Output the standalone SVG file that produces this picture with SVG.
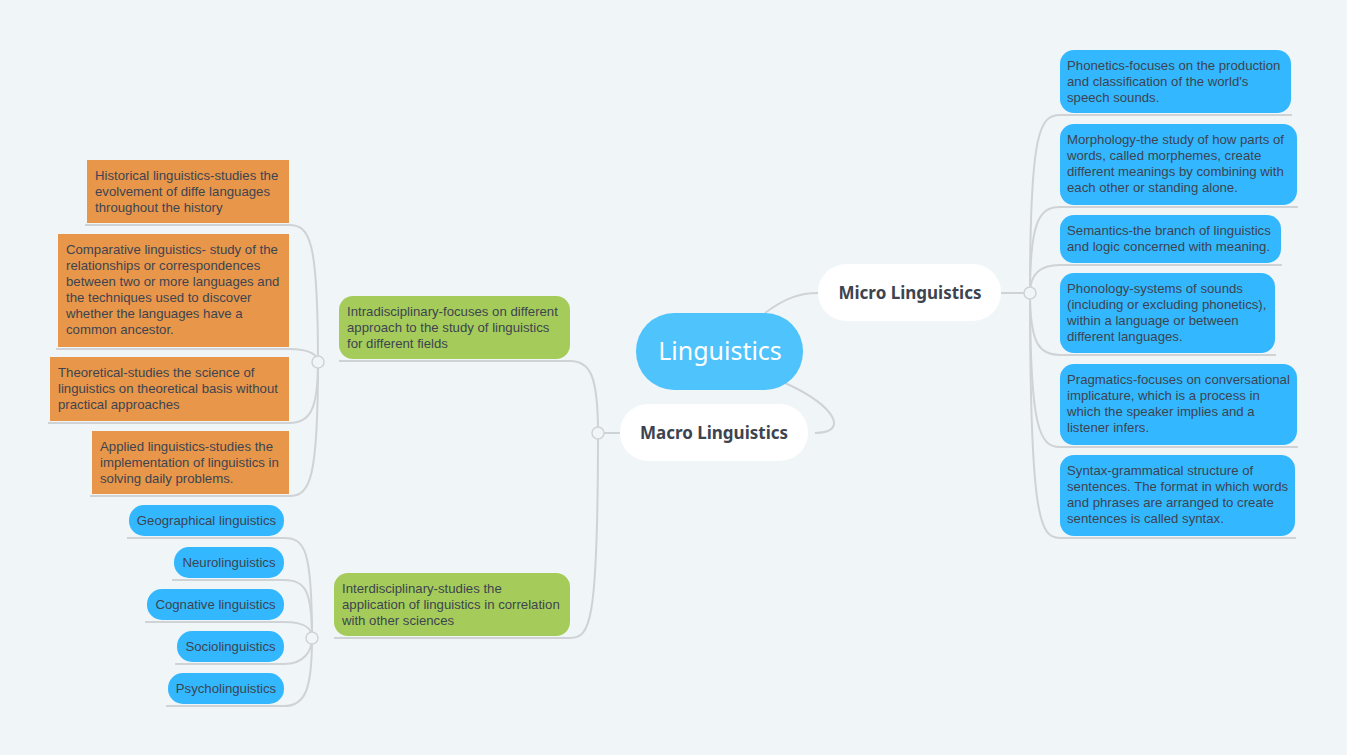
<svg xmlns="http://www.w3.org/2000/svg" width="1347" height="755" viewBox="0 0 1347 755">
<style>
.c{fill:none;stroke:#cfd3d6;stroke-width:2}
.j{fill:#f0f5f8;stroke:#cfd3d6;stroke-width:1.5}
.t{font-family:"Liberation Sans",Arial,sans-serif;font-size:13.2px;fill:#3d4450}
.b{fill:#33b8ff}.o{fill:#e8964a}.g{fill:#a5cc5a}
.h{font-family:"Noto Sans",sans-serif;font-weight:bold;font-size:17px;fill:#3d4450}
</style>
<rect width="1347" height="755" fill="#f0f5f8"/>
<g id="connectors">
<path class="c" d="M765,313 C785,298 800,293 818,293"/>
<path class="c" d="M785,383 C835,405 850,433 815,433"/>
<path class="c" d="M1001,293 H1024"/>
<path class="c" d="M1030,293 C1030,130 1040,115 1060,115 H1292"/>
<path class="c" d="M1030,293 C1030,220 1040,207 1060,207 H1298"/>
<path class="c" d="M1030,293 C1030,275 1040,265 1060,265 H1282"/>
<path class="c" d="M1030,293 C1030,345 1040,355 1060,355 H1276"/>
<path class="c" d="M1030,293 C1030,430 1040,447 1060,447 H1298"/>
<path class="c" d="M1030,293 C1030,520 1040,538 1060,538 H1296"/>
<path class="c" d="M620,433 H604"/>
<path class="c" d="M598,433 C598,375 590,361 570,361 H339"/>
<path class="c" d="M598,433 C598,625 590,638 570,638 H334"/>
<path class="c" d="M318,362 C318,240 310,225 289,225 H85"/>
<path class="c" d="M318,362 C318,355 310,349 289,349 H56"/>
<path class="c" d="M318,362 C318,410 310,423 289,423 H48"/>
<path class="c" d="M318,362 C318,480 310,496 289,496 H90"/>
<path class="c" d="M312,638 C312,550 305,538 284,538 H127"/>
<path class="c" d="M312,638 C312,590 305,580 284,580 H172"/>
<path class="c" d="M312,638 C312,628 305,622 284,622 H145"/>
<path class="c" d="M312,638 C312,650 305,664 284,664 H175"/>
<path class="c" d="M312,638 C312,690 305,706 284,706 H166"/>
<circle class="j" cx="1030" cy="293" r="6"/>
<circle class="j" cx="598" cy="433" r="6"/>
<circle class="j" cx="318" cy="362" r="6"/>
<circle class="j" cx="312" cy="638" r="6"/>
</g>
<g id="root"><rect x="636" y="313" width="167" height="77" rx="38" fill="#4fc3fc"/><text x="720" y="360" text-anchor="middle" font-family="Noto Sans,sans-serif" font-size="25" fill="#fff">Linguistics</text></g>
<g id="micro"><rect x="818" y="264" width="183" height="57" rx="28" fill="#fff"/><text class="h" x="910" y="299" text-anchor="middle">Micro Linguistics</text></g>
<g id="macro"><rect x="620" y="404" width="188" height="57" rx="28" fill="#fff"/><text class="h" x="714" y="439" text-anchor="middle">Macro Linguistics</text></g>
<g id="phonetics"><rect class="b" x="1060" y="50" width="231" height="63" rx="14"/><text class="t"><tspan x="1067" y="70">Phonetics-focuses on the production</tspan><tspan x="1067" y="86">and classification of the world's</tspan><tspan x="1067" y="102">speech sounds.</tspan></text></g>
<g id="morphology"><rect class="b" x="1060" y="124" width="237" height="81" rx="14"/><text class="t"><tspan x="1067" y="144">Morphology-the study of how parts of</tspan><tspan x="1067" y="160">words, called morphemes, create</tspan><tspan x="1067" y="176">different meanings by combining with</tspan><tspan x="1067" y="192">each other or standing alone.</tspan></text></g>
<g id="semantics"><rect class="b" x="1060" y="215" width="221" height="48" rx="14"/><text class="t"><tspan x="1067" y="235">Semantics-the branch of linguistics</tspan><tspan x="1067" y="251">and logic concerned with meaning.</tspan></text></g>
<g id="phonology"><rect class="b" x="1060" y="273" width="215" height="80" rx="14"/><text class="t"><tspan x="1067" y="293">Phonology-systems of sounds</tspan><tspan x="1067" y="309">(including or excluding phonetics),</tspan><tspan x="1067" y="325">within a language or between</tspan><tspan x="1067" y="341">different languages.</tspan></text></g>
<g id="pragmatics"><rect class="b" x="1060" y="364" width="237" height="81" rx="14"/><text class="t"><tspan x="1067" y="384">Pragmatics-focuses on conversational</tspan><tspan x="1067" y="400">implicature, which is a process in</tspan><tspan x="1067" y="416">which the speaker implies and a</tspan><tspan x="1067" y="432">listener infers.</tspan></text></g>
<g id="syntax"><rect class="b" x="1060" y="455" width="235" height="81" rx="14"/><text class="t"><tspan x="1067" y="475">Syntax-grammatical structure of</tspan><tspan x="1067" y="491">sentences. The format in which words</tspan><tspan x="1067" y="507">and phrases are arranged to create</tspan><tspan x="1067" y="523">sentences is called syntax.</tspan></text></g>
<g id="intra"><rect class="g" x="339" y="296" width="231" height="63" rx="14"/><text class="t"><tspan x="347" y="316">Intradisciplinary-focuses on different</tspan><tspan x="347" y="332">approach to the study of linguistics</tspan><tspan x="347" y="348">for different fields</tspan></text></g>
<g id="inter"><rect class="g" x="334" y="573" width="236" height="63" rx="14"/><text class="t"><tspan x="342" y="593">Interdisciplinary-studies the</tspan><tspan x="342" y="609">application of linguistics in correlation</tspan><tspan x="342" y="625">with other sciences</tspan></text></g>
<g id="historical"><rect class="o" x="87" y="160" width="202" height="63"/><text class="t"><tspan x="95" y="180">Historical linguistics-studies the</tspan><tspan x="95" y="196">evolvement of diffe languages</tspan><tspan x="95" y="212">throughout the history</tspan></text></g>
<g id="comparative"><rect class="o" x="58" y="234" width="231" height="113"/><text class="t"><tspan x="66" y="254">Comparative linguistics- study of the</tspan><tspan x="66" y="270">relationships or correspondences</tspan><tspan x="66" y="286">between two or more languages and</tspan><tspan x="66" y="302">the techniques used to discover</tspan><tspan x="66" y="318">whether the languages have a</tspan><tspan x="66" y="334">common ancestor.</tspan></text></g>
<g id="theoretical"><rect class="o" x="50" y="357" width="239" height="64"/><text class="t"><tspan x="58" y="377">Theoretical-studies the science of</tspan><tspan x="58" y="393">linguistics on theoretical basis without</tspan><tspan x="58" y="409">practical approaches</tspan></text></g>
<g id="applied"><rect class="o" x="92" y="431" width="197" height="63"/><text class="t"><tspan x="100" y="451">Applied linguistics-studies the</tspan><tspan x="100" y="467">implementation of linguistics in</tspan><tspan x="100" y="483">solving daily problems.</tspan></text></g>
<g id="geo"><rect class="b" x="129" y="505" width="155" height="31" rx="15"/><text class="t" x="206.5" y="525" text-anchor="middle">Geographical linguistics</text></g>
<g id="neuro"><rect class="b" x="174" y="547" width="110" height="31" rx="15"/><text class="t" x="229" y="567" text-anchor="middle">Neurolinguistics</text></g>
<g id="cog"><rect class="b" x="147" y="589" width="137" height="31" rx="15"/><text class="t" x="215.5" y="609" text-anchor="middle">Cognative linguistics</text></g>
<g id="socio"><rect class="b" x="177" y="631" width="107" height="31" rx="15"/><text class="t" x="230.5" y="651" text-anchor="middle">Sociolinguistics</text></g>
<g id="psycho"><rect class="b" x="168" y="673" width="116" height="31" rx="15"/><text class="t" x="226" y="693" text-anchor="middle">Psycholinguistics</text></g>
</svg>
